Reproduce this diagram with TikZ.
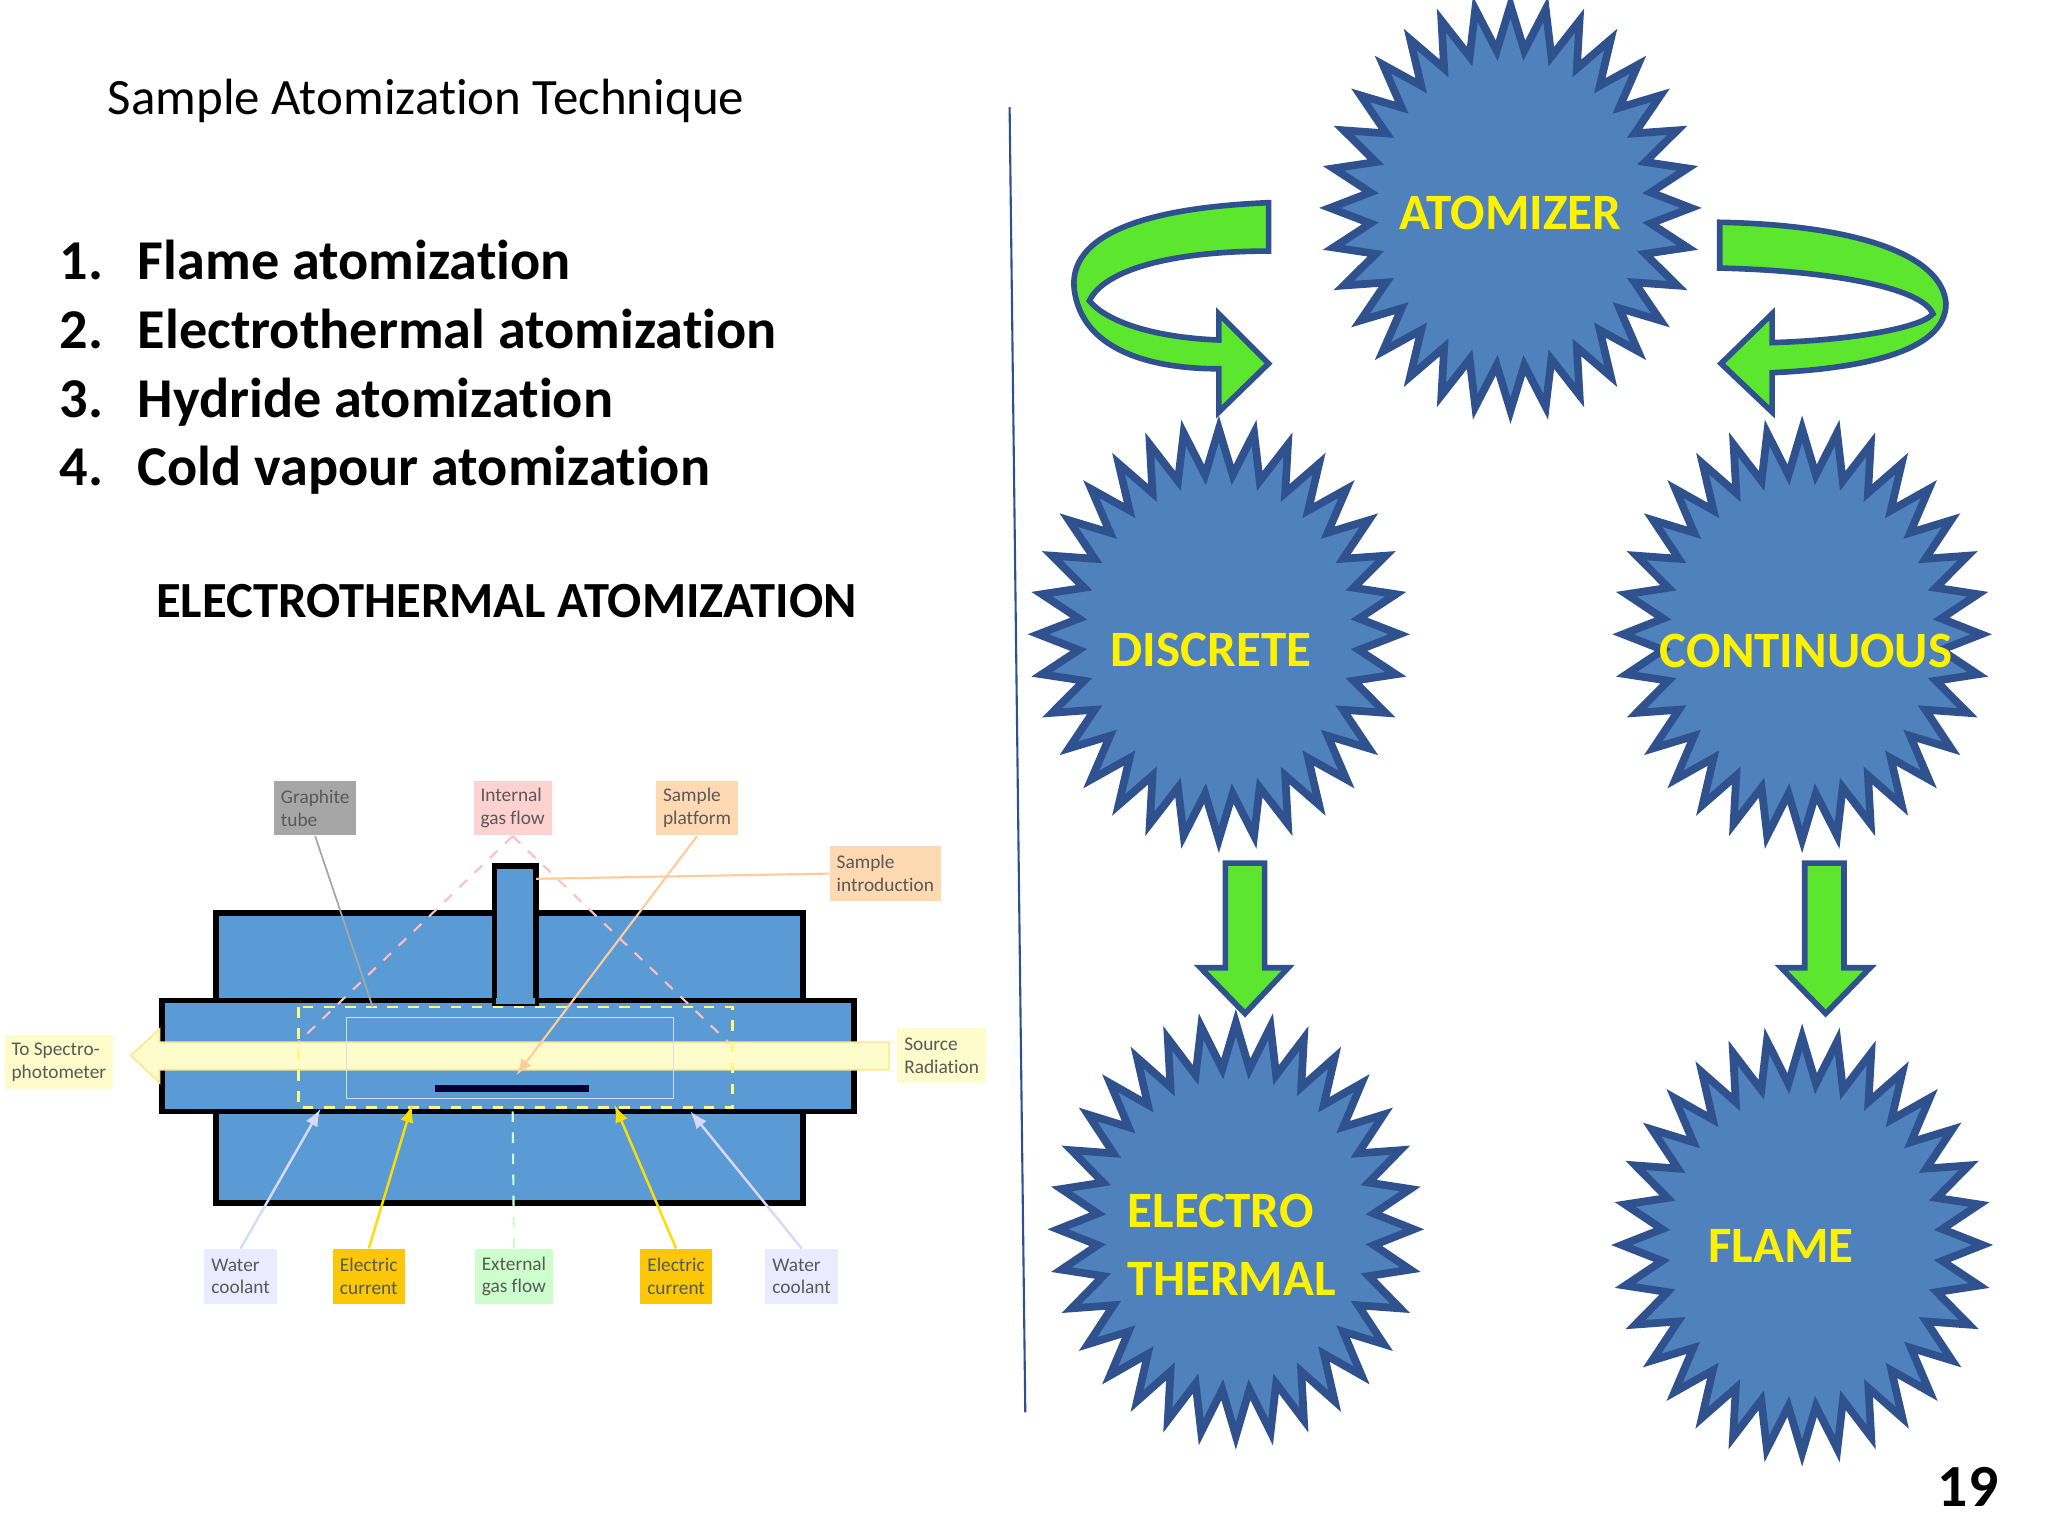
\documentclass[tikz,border=0pt]{standalone}
\usepackage{fontspec}
\setmainfont{Carlito}[Ligatures=NoCommon]
\usepackage{tikz}
\begin{document}
\begin{tikzpicture}[x=0.013078cm,y=-0.013078cm,
  star/.style={fill=starblue,draw=stardark,line width=2.2pt,line join=miter},
  startext/.style={text=yellow,font=\bfseries\fontsize{14.5}{17.5}\selectfont,align=left},
  garrow/.style={fill=arrowgreen,draw=stardark,line width=1.6pt,line join=miter},
  lbl/.style={font=\fontsize{5.5}{6.5}\selectfont,text=black!65,align=left,inner sep=2pt,minimum height=15.5},
  body/.style={fill=bodyblue,draw=black,line width=1.6pt}]
\definecolor{starblue}{HTML}{4F81BD}
\definecolor{stardark}{HTML}{2F528F}
\definecolor{arrowgreen}{HTML}{5CE62E}
\definecolor{bodyblue}{HTML}{5B9BD5}
\useasboundingbox (0,0) rectangle (1566,1174.5);
\fill[white] (0,0) rectangle (1566,1174.5);

% left text
\node[anchor=west,font=\fontsize{14.5}{17}\selectfont] (title) at (73,77) {Sample Atomization Technique};
\foreach \n/\t [count=\k from 0] in {1./Flame atomization,2./Electrothermal atomization,3./Hydride atomization,4./Cold vapour atomization}{
  \node[anchor=base west,font=\bfseries\fontsize{16}{19}\selectfont] (num\k) at (36,{214+52.5*\k}) {\n};
  \node[anchor=base west,font=\bfseries\fontsize{16}{19}\selectfont] (item\k) at (96,{214+52.5*\k}) {\t};
}
\node[anchor=west,font=\bfseries\fontsize{14.4}{17}\selectfont] (ehead) at (110,460) {ELECTROTHERMAL ATOMIZATION};

% divider
\draw[stardark,line width=0.6pt] (772,82) -- (784,1080);

% furnace
\draw[body] (165,698) rectangle (614,920);
\draw[body] (124,765) rectangle (653,850);
\draw[body] (378,662) rectangle (410,767);
\fill[bodyblue] (379,763) rectangle (409,768);
\fill[yellow!20,draw=yellow!60!orange!40,line width=0.5pt] (680,797) -- (122,797) -- (122,787) -- (100,807) -- (122,828) -- (122,818) -- (680,818) -- cycle;
\draw[yellow!50!white,dashed,line width=0.8pt] (228,770) rectangle (560,847);
\draw[white!70!bodyblue,line width=0.5pt] (265,778) rectangle (515,840);
\draw[black!80!blue,line width=2pt] (333,832) -- (450,832);

% labels
\node[lbl,fill=black!35] (gt) at (241,618) {Graphite\\tube};
\node[lbl,fill=pink!70] (ig) at (392,618) {Internal\\gas flow};
\node[lbl,fill=orange!30] (sp) at (533,618) {Sample\\platform};
\node[lbl,fill=orange!30] (si) at (677,668) {Sample\\introduction};
\node[lbl,fill=yellow!20] (ts) at (45,812) {To Spectro-\\photometer};
\node[lbl,fill=yellow!20] (sr) at (720,807) {Source\\Radiation};
\node[lbl,fill=blue!8] (wc1) at (184,976) {Water\\coolant};
\node[lbl,fill=yellow!60!orange] (ec1) at (282,976) {Electric\\current};
\node[lbl,fill=green!20] (eg) at (393,976) {External\\gas flow};
\node[lbl,fill=yellow!60!orange] (ec2) at (517,976) {Electric\\current};
\node[lbl,fill=blue!8] (wc2) at (613,976) {Water\\coolant};
\coordinate (pgt) at (285,770);
\coordinate (pig1) at (228,797);
\coordinate (pig2) at (557,797);
\coordinate (psp) at (395,822);
\coordinate (psi) at (410,672);
\coordinate (pwc1) at (245,848);
\coordinate (pec1) at (315,845);
\coordinate (peg) at (392,848);
\coordinate (pec2) at (470,845);
\coordinate (pwc2) at (528,850);
\draw[black!35,line width=0.5pt] (gt.south) -- (pgt);
\draw[pink,dashed,line width=0.6pt] (ig.south) -- (pig1);
\draw[pink,dashed,line width=0.6pt] (ig.south) -- (pig2);
\draw[orange!40,line width=0.6pt,-latex] (sp.south) -- (psp);
\draw[orange!40,line width=0.6pt] (si.west) -- (psi);
\draw[blue!15,line width=0.7pt,-latex] (wc1.north) -- (pwc1);
\draw[yellow!80!orange,line width=0.7pt,-latex] (ec1.north) -- (pec1);
\draw[white!80!green,dashed,line width=0.6pt] (eg.north) -- (peg);
\draw[yellow!80!orange,line width=0.7pt,-latex] (ec2.north) -- (pec2);
\draw[blue!15,line width=0.7pt,-latex] (wc2.north) -- (pwc2);

% stars
\foreach \cx/\cy/\rx/\ry in {1155/159/138/155,932/485/138/157,1378/485/137/157,945/940/136/158,1378/952/138/159}{
  \draw[star] plot[samples at={0,...,63}] ({\cx+\rx*(1-0.22*mod(\x,2))*cos(\x*5.625)},{\cy+\ry*(1-0.22*mod(\x,2))*sin(\x*5.625)}) -- cycle;
}
\node[startext] (atom) at (1155,163) {ATOMIZER};
\node[startext] (disc) at (926,497) {DISCRETE};
\node[startext] (cont) at (1381,498) {CONTINUOUS};
\node[startext,align=left] (elec) at (942,952) {ELECTRO\\[2pt]THERMAL};
\node[startext] (flame) at (1362,953) {FLAME};

% curved arrows
\draw[garrow] (970,155) .. controls (850,160) and (815,190) .. (822,225)
  .. controls (830,268) and (880,282) .. (932,282) -- (932,315) -- (970,278) -- (932,240) -- (932,260)
  .. controls (880,258) and (845,245) .. (833,230)
  .. controls (845,205) and (900,192) .. (970,192) -- cycle;
\draw[garrow] (1315,170) .. controls (1420,172) and (1485,195) .. (1488,232)
  .. controls (1488,270) and (1420,282) .. (1355,285) -- (1355,315) -- (1316,278) -- (1355,240) -- (1355,262)
  .. controls (1420,260) and (1470,250) .. (1478,240)
  .. controls (1470,220) and (1400,207) .. (1315,205) -- cycle;

% down arrows
\draw[garrow] (937,660) -- (967,660) -- (967,740) -- (985,740) -- (952,775) -- (918,740) -- (937,740) -- cycle;
\draw[garrow] (1380,660) -- (1410,660) -- (1410,740) -- (1430,740) -- (1396,775) -- (1362,740) -- (1380,740) -- cycle;

\node[font=\bfseries\fontsize{17}{20}\selectfont] (page) at (1505,1137) {19};
\end{tikzpicture}
\end{document}
